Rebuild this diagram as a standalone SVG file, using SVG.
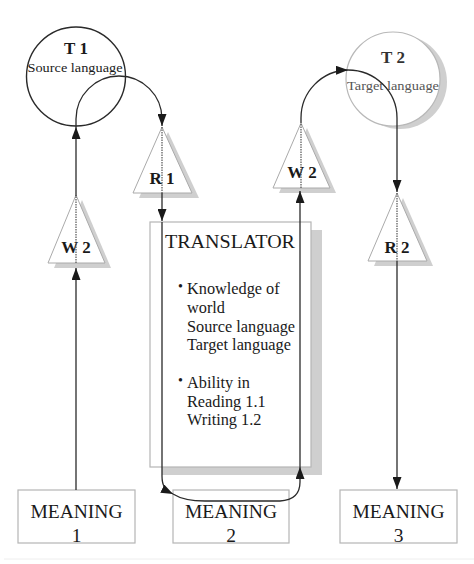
<svg xmlns="http://www.w3.org/2000/svg" width="474" height="564" viewBox="0 0 474 564">
<style>
  text { font-family: "Liberation Serif", "Times New Roman", serif; fill: #1a1a1a; }
  .lbl { font-weight: bold; font-size: 17px; text-anchor: middle; }
  .sub { font-size: 13px; text-anchor: middle; }
  .big { font-size: 19.5px; text-anchor: middle; }
  .body { font-size: 16.3px; }
  .bul { font-size: 14px; }
  .shadow { fill: #cfcfcf; stroke: none; }
  .tri { fill: #fff; stroke: #aaa; stroke-width: 1; }
  .box { fill: #fff; stroke: #b5b5b5; stroke-width: 1.2; }
  .conn { fill: none; stroke: #2a2a2a; stroke-width: 1.3; }
  .dot { fill: none; stroke: #444; stroke-width: 1.1; stroke-dasharray: 1.5 1; }
</style>
<defs>
  <marker id="arr" viewBox="0 0 12 9" refX="12" refY="4.5" markerWidth="12" markerHeight="9" orient="auto" markerUnits="userSpaceOnUse">
    <path d="M0,0 L12,4.5 L0,9 z" fill="#1a1a1a"/>
  </marker>
</defs>
<rect width="474" height="564" fill="#fff"/>
<line x1="4" y1="559" x2="474" y2="559" stroke="#eeeeee" stroke-width="1"/>

<g id="t1">
  <circle cx="76" cy="76.5" r="49.5" fill="#fff" stroke="#2a2a2a" stroke-width="1.4"/>
  <text class="lbl" x="76" y="54">T 1</text>
  <text class="sub" x="75" y="72" textLength="95" lengthAdjust="spacingAndGlyphs">Source language</text>
</g>

<g id="t2">
  <circle cx="400" cy="82" r="47" class="shadow"/>
  <circle cx="393" cy="79" r="47" fill="#fff" stroke="#b8b8b8" stroke-width="1.2"/>
  <text class="lbl" x="393" y="63" style="fill:#333">T 2</text>
  <text class="sub" x="393" y="90" textLength="92" lengthAdjust="spacingAndGlyphs" style="fill:#555">Target language</text>
</g>

<g id="r1">
  <polygon class="shadow" points="168,132 199,198 139,198"/>
  <polygon class="tri" points="162,127 192,193 133,193"/>
  <text class="lbl" x="162" y="184">R 1</text>
</g>

<g id="w2-left">
  <polygon class="shadow" points="82,200 111,268 54,268"/>
  <polygon class="tri" points="76,195 105,263 48,263"/>
  <text class="lbl" x="76" y="253">W 2</text>
</g>

<g id="w2-right">
  <polygon class="shadow" points="307,128 336,193 279,193"/>
  <polygon class="tri" points="301,123 330,188 273,188"/>
  <text class="lbl" x="302" y="178">W 2</text>
</g>

<g id="r2">
  <polygon class="shadow" points="403,198 433,266 374,266"/>
  <polygon class="tri" points="397,193 427,261 368,261"/>
  <text class="lbl" x="397" y="253">R 2</text>
</g>

<g id="translator">
  <rect class="shadow" x="162" y="230" width="160" height="245"/>
  <rect class="box" x="150" y="222" width="161" height="245"/>
  <text x="165" y="248" style="font-size:19.5px" textLength="130" lengthAdjust="spacingAndGlyphs">TRANSLATOR</text>
  <text class="bul" x="178" y="291">•</text>
  <text class="body" x="187" y="294">Knowledge of</text>
  <text class="body" x="187" y="313">world</text>
  <text class="body" x="187" y="332">Source language</text>
  <text class="body" x="187" y="350">Target language</text>
  <text class="bul" x="178" y="385">•</text>
  <text class="body" x="187" y="388">Ability in</text>
  <text class="body" x="187" y="407">Reading 1.1</text>
  <text class="body" x="187" y="425">Writing 1.2</text>
</g>

<g id="meaning1">
  <rect class="box" x="18" y="490" width="117" height="53"/>
  <text class="big" x="76.5" y="518">MEANING</text>
  <text class="big" x="76.5" y="542">1</text>
</g>
<g id="meaning2">
  <rect class="box" x="173" y="490" width="116" height="53"/>
  <text class="big" x="231" y="518">MEANING</text>
  <text class="big" x="231" y="542">2</text>
</g>
<g id="meaning3">
  <rect class="box" x="340" y="490" width="117" height="53"/>
  <text class="big" x="398.5" y="518">MEANING</text>
  <text class="big" x="398.5" y="542">3</text>
</g>

<g id="connectors">
  <path class="conn" d="M76,490 L76,268" marker-end="url(#arr)"/>
  <path class="dot" d="M76,263 L76,196"/>
  <path class="conn" d="M76,196 L76,127" marker-end="url(#arr)"/>
  <path class="conn" d="M76,127 L76,119 A43,43 0 0 1 162,119 L162,126" marker-end="url(#arr)"/>
  <path class="dot" d="M162,127 L162,193"/>
  <path class="conn" d="M162,193 L162,221" marker-end="url(#arr)"/>
  <path class="conn" d="M162,222 L162,476 C162,486 165,490 173,494" marker-end="url(#arr)"/>
  <path class="conn" d="M173,494 Q184,501 205,501 L280,501 Q300,500 300,482 L300,467" marker-end="url(#arr)"/>
  <path class="conn" d="M300,467 L300,191" marker-end="url(#arr)"/>
  <path class="dot" d="M301,188 L301,123"/>
  <path class="conn" d="M301,123 L301,118 A48,48 0 0 1 348,70" marker-end="url(#arr)"/>
  <path class="conn" d="M348,70 A49,48 0 0 1 397,118 L397,192" marker-end="url(#arr)"/>
  <path class="dot" d="M397,193 L397,261"/>
  <path class="conn" d="M397,261 L397,489" marker-end="url(#arr)"/>
</g>
</svg>
